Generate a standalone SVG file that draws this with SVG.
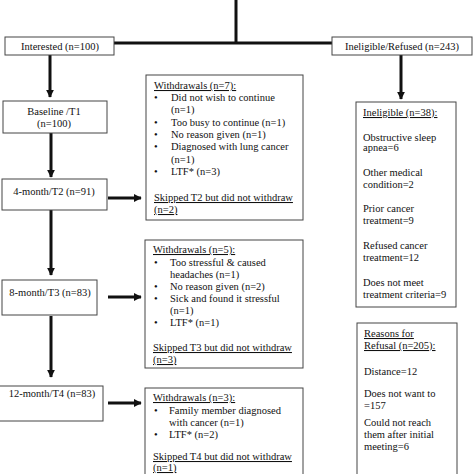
<svg xmlns="http://www.w3.org/2000/svg" width="474" height="474" viewBox="0 0 474 474">
<defs>
<marker id="ah" viewBox="0 0 10 10" refX="9" refY="5" markerWidth="2.6" markerHeight="2.6" orient="auto" markerUnits="strokeWidth">
<path d="M0,0 L10,5 L0,10 z" fill="#111"/>
</marker>
<style>
.box{fill:#fff;stroke:#444;stroke-width:1}
.c{stroke:#111;stroke-width:3;fill:none}
.a{stroke:#111;stroke-width:3;fill:none;marker-end:url(#ah)}
text{font-family:"Liberation Serif","Times New Roman",serif;font-size:10.5px;fill:#111}
.m{text-anchor:middle}
.u{text-decoration:underline}
</style>
</defs>
<rect width="474" height="474" fill="#fff"/>
<g id="connectors">
<line class="c" x1="236" y1="0" x2="236" y2="43"/>
<line class="c" x1="114" y1="43" x2="332" y2="43"/>
<line class="a" x1="50" y1="55" x2="50" y2="97"/>
<line class="a" x1="401" y1="55" x2="401" y2="99"/>
<line class="a" x1="51" y1="133" x2="51" y2="177"/>
<line class="a" x1="108" y1="198" x2="141" y2="198"/>
<line class="a" x1="51" y1="210" x2="51" y2="275"/>
<line class="a" x1="108" y1="297" x2="141" y2="297"/>
<line class="a" x1="51" y1="316" x2="51" y2="377"/>
<line class="a" x1="108" y1="403" x2="141" y2="403"/>
</g>
<g id="interested">
<rect class="box" x="5" y="37" width="109" height="18"/>
<text class="m" x="60" y="50">Interested (n=100)</text>
</g>
<g id="ineligible-refused">
<rect class="box" x="332" y="37" width="140" height="18"/>
<text class="m" x="402" y="50">Ineligible/Refused (n=243)</text>
</g>
<g id="baseline">
<rect class="box" x="3" y="101" width="104" height="32"/>
<text class="m" x="54" y="115">Baseline /T1</text>
<text class="m" x="54" y="127">(n=100)</text>
</g>
<g id="t2">
<rect class="box" x="2" y="179" width="105" height="31"/>
<text class="m" x="54" y="195">4-month/T2 (n=91)</text>
</g>
<g id="t3">
<rect class="box" x="2" y="280" width="95" height="35"/>
<text class="m" x="50" y="296">8-month/T3 (n=83)</text>
</g>
<g id="t4">
<rect class="box" x="-1" y="386" width="104" height="35"/>
<text class="m" x="52" y="397">12-month/T4 (n=83)</text>
</g>
<g id="withdrawals-t2">
<rect class="box" x="146" y="75" width="157" height="145"/>
<text class="u" x="154" y="89">Withdrawals (n=7):</text>
<text x="154" y="101">•</text><text x="171" y="101">Did not wish to continue</text>
<text x="171" y="113">(n=1)</text>
<text x="154" y="126">•</text><text x="171" y="126">Too busy to continue (n=1)</text>
<text x="154" y="138">•</text><text x="171" y="138">No reason given (n=1)</text>
<text x="154" y="150">•</text><text x="171" y="150">Diagnosed with lung cancer</text>
<text x="171" y="163">(n=1)</text>
<text x="154" y="175">•</text><text x="171" y="175">LTF* (n=3)</text>
<text class="u" x="154" y="201">Skipped T2 but did not withdraw</text>
<text class="u" x="154" y="213">(n=2)</text>
</g>
<g id="withdrawals-t3">
<rect class="box" x="145" y="240" width="158" height="128"/>
<text class="u" x="153" y="253">Withdrawals (n=5):</text>
<text x="154" y="266">•</text><text x="170" y="266">Too stressful &amp; caused</text>
<text x="170" y="278">headaches (n=1)</text>
<text x="154" y="290">•</text><text x="170" y="290">No reason given (n=2)</text>
<text x="154" y="302">•</text><text x="170" y="302">Sick and found it stressful</text>
<text x="170" y="314">(n=1)</text>
<text x="154" y="326">•</text><text x="170" y="326">LTF* (n=1)</text>
<text class="u" x="153" y="351">Skipped T3 but did not withdraw</text>
<text class="u" x="153" y="363">(n=3)</text>
</g>
<g id="withdrawals-t4">
<rect class="box" x="145" y="388" width="158" height="95"/>
<text class="u" x="153" y="401">Withdrawals (n=3):</text>
<text x="154" y="414">•</text><text x="169" y="414">Family member diagnosed</text>
<text x="169" y="426">with cancer (n=1)</text>
<text x="154" y="438">•</text><text x="169" y="438">LTF* (n=2)</text>
<text class="u" x="153" y="460">Skipped T4 but did not withdraw</text>
<text class="u" x="153" y="471">(n=1)</text>
</g>
<g id="ineligible">
<rect class="box" x="356" y="102" width="100" height="205"/>
<text class="u" x="363" y="116">Ineligible (n=38):</text>
<text x="363" y="141">Obstructive sleep</text>
<text x="363" y="151">apnea=6</text>
<text x="363" y="176">Other medical</text>
<text x="363" y="188">condition=2</text>
<text x="363" y="212">Prior cancer</text>
<text x="363" y="224">treatment=9</text>
<text x="363" y="249">Refused cancer</text>
<text x="363" y="261">treatment=12</text>
<text x="363" y="286">Does not meet</text>
<text x="363" y="298">treatment criteria=9</text>
</g>
<g id="refusal">
<rect class="box" x="357" y="323" width="100" height="160"/>
<text class="u" x="364" y="337">Reasons for</text>
<text class="u" x="364" y="349">Refusal (n=205):</text>
<text x="364" y="375">Distance=12</text>
<text x="364" y="397">Does not want to</text>
<text x="364" y="409">=157</text>
<text x="364" y="426">Could not reach</text>
<text x="364" y="438">them after initial</text>
<text x="364" y="450">meeting=6</text>
</g>
</svg>
